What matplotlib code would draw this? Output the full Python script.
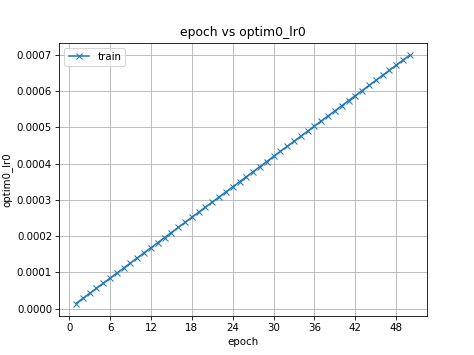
import matplotlib
matplotlib.use('Agg')
import matplotlib.pyplot as plt

# Données
epochs = list(range(1, 51))
lr = [
    0.000014, 0.000028, 0.000042, 0.000056, 0.000070,
    0.000084, 0.000098, 0.000112, 0.000126, 0.000140,
    0.000154, 0.000168, 0.000182, 0.000196, 0.000210,
    0.000224, 0.000238, 0.000252, 0.000266, 0.000280,
    0.000294, 0.000308, 0.000322, 0.000336, 0.000350,
    0.000364, 0.000378, 0.000392, 0.000406, 0.000420,
    0.000434, 0.000448, 0.000462, 0.000476, 0.000490,
    0.000504, 0.000518, 0.000532, 0.000546, 0.000560,
    0.000574, 0.000588, 0.000602, 0.000616, 0.000630,
    0.000644, 0.000658, 0.000672, 0.000686, 0.000700,
]
xticks = [0, 6, 12, 18, 24, 30, 36, 42, 48]

# figure par défaut 6.4x4.8, réduite à 474x355
dpi = 474 / 6.4
fig = plt.figure(figsize=(6.4, 355 / dpi), dpi=dpi)
plt.plot(epochs, lr, marker='x', label='train')
plt.title('epoch vs optim0_lr0')
plt.xlabel('epoch')
plt.ylabel('optim0_lr0')
plt.xticks(xticks)
plt.grid(True)
plt.legend(loc='upper left')
plt.savefig('out.png', dpi=dpi)
